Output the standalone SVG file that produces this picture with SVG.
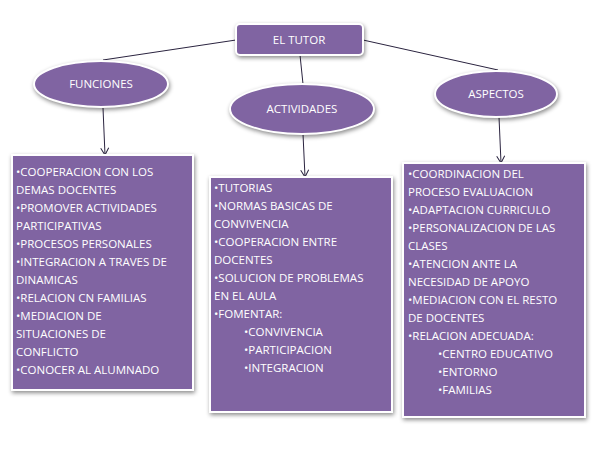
<svg xmlns="http://www.w3.org/2000/svg" width="604" height="458" viewBox="0 0 604 458">
<defs>
<style>
.n{fill:#8064A2;stroke:#fff;stroke-width:2;filter:drop-shadow(1px 2px 2px rgba(0,0,0,0.45))}
.t{fill:#fff;font-family:"Open Sans","Liberation Sans",sans-serif;font-size:11.5px}
.c{text-anchor:middle}
.l{stroke:#2b2440;stroke-width:1;fill:none}
</style>
<marker id="a" markerWidth="10" markerHeight="10" refX="8" refY="5" orient="auto" markerUnits="userSpaceOnUse"><path d="M1,1 L8,5 L1,9" fill="none" stroke="#2b2440"/></marker>
</defs>
<rect width="604" height="458" fill="#fff"/>
<g id="connectors">
<line class="l" x1="236" y1="40" x2="103" y2="60"/>
<line class="l" x1="300" y1="55" x2="303" y2="84"/>
<line class="l" x1="363" y1="40" x2="498" y2="70"/>
<line class="l" x1="103" y1="108" x2="105" y2="155" marker-end="url(#a)"/>
<line class="l" x1="303" y1="134" x2="305" y2="177" marker-end="url(#a)"/>
<line class="l" x1="499" y1="117" x2="501" y2="163" marker-end="url(#a)"/>
</g>
<g id="tutor"><rect class="n" x="236" y="24" width="127" height="31" rx="4"/><text class="t c" x="299" y="44">EL TUTOR</text></g>
<g id="funciones"><ellipse class="n" cx="101" cy="84" rx="67" ry="23"/><text class="t c" x="101" y="88">FUNCIONES</text></g>
<g id="actividades"><ellipse class="n" cx="302" cy="109" rx="72" ry="25"/><text class="t c" x="302" y="113">ACTIVIDADES</text></g>
<g id="aspectos"><ellipse class="n" cx="496" cy="94" rx="61" ry="23"/><text class="t c" x="496" y="98">ASPECTOS</text></g>
<g id="box1"><rect class="n" x="12" y="155" width="181" height="235"/>
<text class="t" x="16" y="176"><tspan x="16">•COOPERACION CON LOS</tspan><tspan x="16" dy="18">DEMAS DOCENTES</tspan><tspan x="16" dy="18">•PROMOVER ACTIVIDADES</tspan><tspan x="16" dy="18">PARTICIPATIVAS</tspan><tspan x="16" dy="18">•PROCESOS PERSONALES</tspan><tspan x="16" dy="18">•INTEGRACION A TRAVES DE</tspan><tspan x="16" dy="18">DINAMICAS</tspan><tspan x="16" dy="18">•RELACION CN FAMILIAS</tspan><tspan x="16" dy="18">•MEDIACION DE</tspan><tspan x="16" dy="18">SITUACIONES DE</tspan><tspan x="16" dy="18">CONFLICTO</tspan><tspan x="16" dy="18">•CONOCER AL ALUMNADO</tspan></text></g>
<g id="box2"><rect class="n" x="210" y="177" width="182" height="235"/>
<text class="t" x="214" y="192"><tspan x="214">•TUTORIAS</tspan><tspan x="214" dy="18">•NORMAS BASICAS DE</tspan><tspan x="214" dy="18">CONVIVENCIA</tspan><tspan x="214" dy="18">•COOPERACION ENTRE</tspan><tspan x="214" dy="18">DOCENTES</tspan><tspan x="214" dy="18">•SOLUCION DE PROBLEMAS</tspan><tspan x="214" dy="18">EN EL AULA</tspan><tspan x="214" dy="18">•FOMENTAR:</tspan><tspan x="244" dy="18">•CONVIVENCIA</tspan><tspan x="244" dy="18">•PARTICIPACION</tspan><tspan x="244" dy="18">•INTEGRACION</tspan></text></g>
<g id="box3"><rect class="n" x="403" y="163" width="182" height="254"/>
<text class="t" x="408" y="178"><tspan x="408">•COORDINACION DEL</tspan><tspan x="408" dy="18">PROCESO EVALUACION</tspan><tspan x="408" dy="18">•ADAPTACION CURRICULO</tspan><tspan x="408" dy="18">•PERSONALIZACION DE LAS</tspan><tspan x="408" dy="18">CLASES</tspan><tspan x="408" dy="18">•ATENCION ANTE LA</tspan><tspan x="408" dy="18">NECESIDAD DE APOYO</tspan><tspan x="408" dy="18">•MEDIACION CON EL RESTO</tspan><tspan x="408" dy="18">DE DOCENTES</tspan><tspan x="408" dy="18">•RELACION ADECUADA:</tspan><tspan x="438" dy="18">•CENTRO EDUCATIVO</tspan><tspan x="438" dy="18">•ENTORNO</tspan><tspan x="438" dy="18">•FAMILIAS</tspan></text></g>
</svg>
